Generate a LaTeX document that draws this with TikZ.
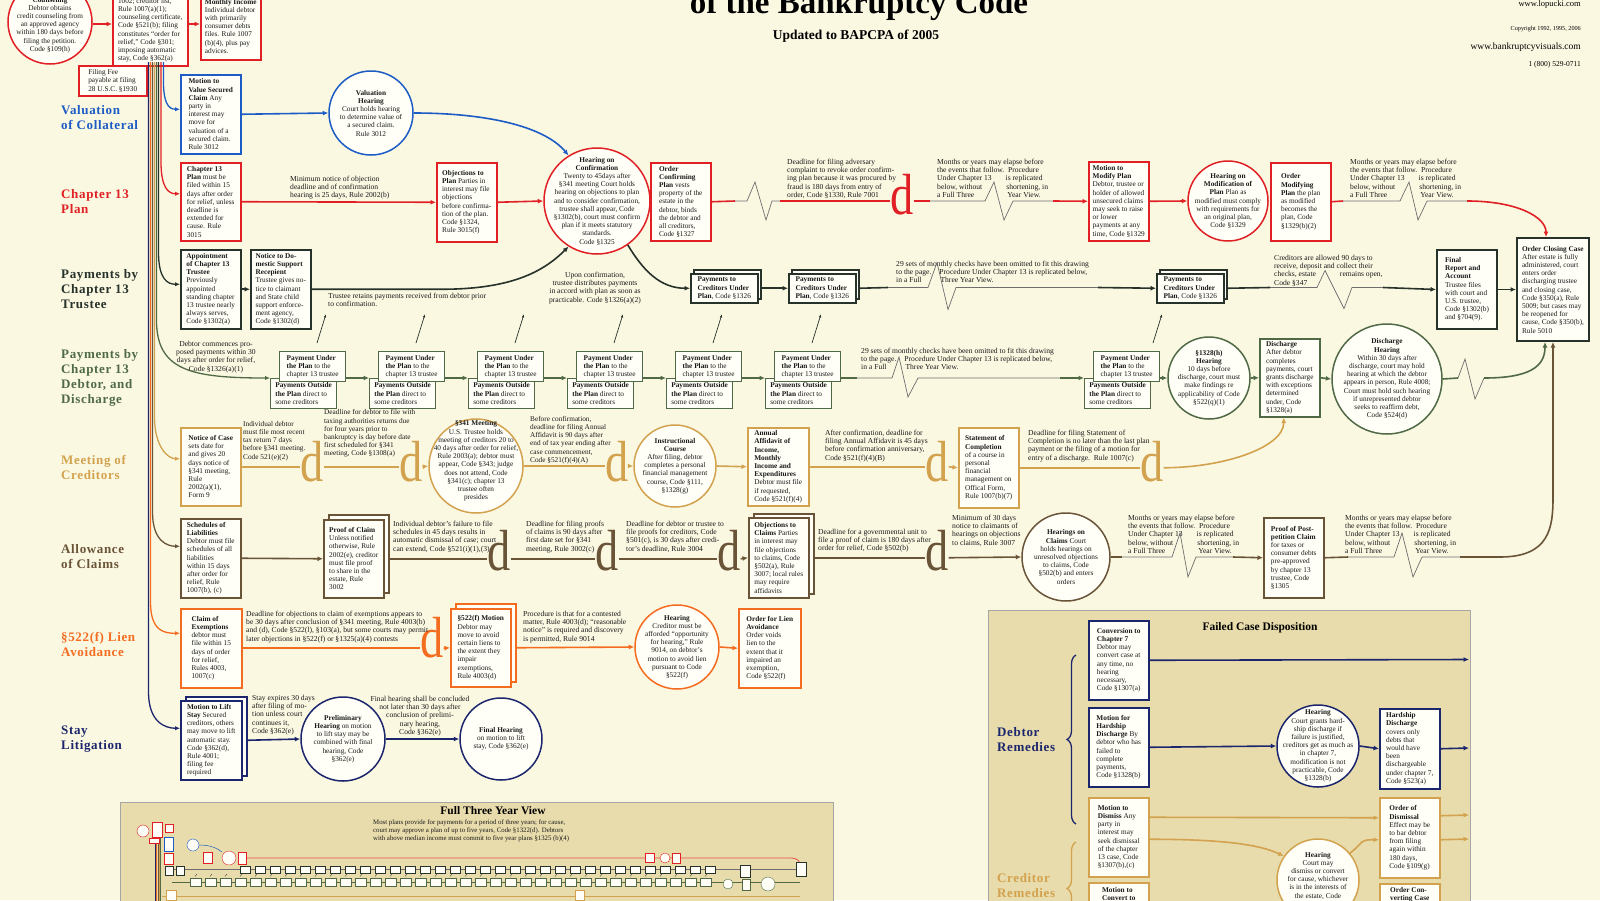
\documentclass[tikz,border=0pt]{standalone}
\usepackage{fontspec}
\setmainfont{Liberation Serif}
\newfontfamily\lanefam[LetterSpace=5]{Liberation Serif}
\usetikzlibrary{arrows.meta,decorations.pathreplacing}

\definecolor{paper}{RGB}{251,248,226}
\definecolor{boxfill}{RGB}{255,255,248}
\definecolor{ink}{RGB}{25,25,25}
\definecolor{valblue}{RGB}{28,92,196}
\definecolor{planred}{RGB}{224,32,36}
\definecolor{trdark}{RGB}{38,50,42}
\definecolor{dbgreen}{RGB}{80,106,70}
\definecolor{mtgold}{RGB}{210,162,78}
\definecolor{clbrown}{RGB}{106,84,56}
\definecolor{lnorange}{RGB}{244,108,32}
\definecolor{stnavy}{RGB}{28,38,108}
\definecolor{zig}{RGB}{110,110,110}
\definecolor{panel}{RGB}{232,220,172}

\newcommand{\boxfont}{\fontsize{7.3}{8.2}\selectfont}
\newcommand{\notefont}{\fontsize{7.6}{8.2}\selectfont}
\newcommand{\lanefont}{\lanefam\bfseries\fontsize{13}{15}\selectfont}
\newcommand{\dmark}{\scalebox{0.8}[1]{\fontsize{58}{58}\selectfont d}}
\newcommand{\monthsnote}{Months or years may elapse before\\the events that follow.\ \ Procedure\\Under Chapter 13\hspace*{14pt}is replicated\\below, without\hspace*{24pt}shortening, in\\a Full Three\hspace*{33pt}Year View.}
\newcommand{\checksnote}{29 sets of monthly checks have been omitted to fit this drawing\\to the page.\hspace*{8pt}Procedure Under Chapter 13 is replicated below,\\in a Full\hspace*{19pt}Three Year View.}

\begin{document}
\begin{tikzpicture}[x=1pt, y=-1pt,
    box/.style={draw, line width=1.5pt, fill=boxfill, anchor=north west,
      minimum width=60pt, minimum height=79pt, align=left, font=\boxfont,
      text=ink, inner xsep=2.5pt, inner ysep=2pt},
    ring/.style={circle, draw, line width=1.5pt, fill=boxfill, inner sep=0pt},
    ctext/.style={align=center, font=\boxfont, text=ink, inner sep=0pt},
    note/.style={anchor=north west, align=left, font=\notefont, text=ink, inner sep=0pt},
    cnote/.style={anchor=north, align=center, font=\notefont, text=ink, inner sep=0pt},
    lane/.style={anchor=north west, align=left, font=\lanefont, inner sep=0pt},
    dd/.style={anchor=base west, inner sep=0pt},
    flow/.style={line width=1.6pt},
    arr/.style={flow, -{Latex[length=5.5pt,width=5pt]}},
    feed/.style={line width=1.3pt, -{Latex[length=5pt,width=4.5pt]}},
    pointer/.style={draw=trdark, line width=0.7pt, -{Latex[length=3.5pt,width=2.5pt]}},
    zz/.style={draw=zig, line width=0.7pt},
    mini/.style={line width=0.4pt, fill=boxfill}
  ]
  \useasboundingbox (0,0) rectangle (1600,900);
  \clip (0,0) rectangle (1600,900);
  \fill[paper] (0,0) rectangle (1600,900);

  \node[font=\fontsize{33}{33}\selectfont\bfseries, anchor=base, inner sep=0pt] (title) at (859,13) {of the Bankruptcy Code};
  \node[font=\fontsize{13.5}{15}\selectfont\bfseries, anchor=base, inner sep=0pt] (subtitle) at (856,39) {Updated to BAPCPA of 2005};
  \node[font=\fontsize{8.5}{9}\selectfont, anchor=east, inner sep=0pt] (web1) at (1581,4) {www.lopucki.com};
  \node[font=\fontsize{6.2}{7}\selectfont, anchor=east, inner sep=0pt] (copy) at (1581,29) {Copyright 1992, 1995, 2006};
  \node[font=\fontsize{9.5}{10}\selectfont, anchor=east, inner sep=0pt] (web2) at (1581,47) {www.bankruptcyvisuals.com};
  \node[font=\fontsize{7.5}{8}\selectfont, anchor=east, inner sep=0pt] (phone) at (1581,65) {1 (800) 529-0711};

  \draw[gray!70, fill=panel] (120,802) rectangle (833,910);
  \draw[gray!70, fill=panel] (988,610) rectangle (1470,910);

  \node[lane, valblue] (lval) at (61,105) {Valuation\\of Collateral};
  \node[lane, planred] (lplan) at (61,189) {Chapter 13\\Plan};
  \node[lane, trdark] (ltrus) at (61,269) {Payments by\\Chapter 13\\Trustee};
  \node[lane, dbgreen] (ldebt) at (61,349) {Payments by\\Chapter 13\\Debtor, and\\Discharge};
  \node[lane, mtgold] (lmeet) at (61,455) {Meeting of\\Creditors};
  \node[lane, clbrown] (lclaim) at (61,544) {Allowance\\of Claims};
  \node[lane, lnorange] (llien) at (61,632) {§522(f) Lien\\Avoidance};
  \node[lane, stnavy] (lstay) at (61,726) {Stay\\Litigation};
  \node[lane, stnavy] (ldrem) at (997,727) {Debtor\\Remedies};
  \node[lane, mtgold] (lcrem) at (997,873) {Creditor\\Remedies};

  % filing
  \node[ring, draw=planred, minimum size=84pt] (couns) at (50,22) {};
  \node[ctext] (counst) at (50,25) {\textbf{Counseling}\\Debtor obtains\\credit counseling from\\an approved agency\\within 180 days before\\filing the petition.\\Code §109(h)};
  \node[box, draw=planred, minimum width=75pt, minimum height=71pt] (petition) at (112,-6) {1002; creditor list,\\Rule 1007(a)(1);\\counseling certificate,\\Code §521(b); filing\\constitutes ``order for\\relief,'' Code §301;\\imposing automatic\\stay, Code §362(a)};
  \node[box, draw=planred, minimum height=67pt] (income) at (200,-8) {\textbf{Monthly Income}\\Individual debtor\\with primarily\\consumer debts\\files. Rule 1007\\(b)(4), plus pay\\advices.};
  \node[box, draw=planred, minimum width=68pt, minimum height=30pt] (fee) at (78,65) {Filing Fee\\payable at filing\\28 U.S.C. §1930};

  % valuation and plan
  \node[box, draw=valblue] (mvsc) at (180,74) {\textbf{Motion to}\\\textbf{Value Secured}\\\textbf{Claim} Any\\party in\\interest may\\move for\\valuation of a\\secured claim.\\Rule 3012};
  \node[ring, draw=valblue, minimum size=84pt] (valh) at (371,113) {};
  \node[ctext] (valht) at (valh) {\textbf{Valuation}\\\textbf{Hearing}\\Court holds hearing\\to determine value of\\a secured claim.\\Rule 3012};
  \node[box, draw=planred, minimum height=78pt] (plan) at (180,162) {\textbf{Chapter 13}\\\textbf{Plan} must be\\filed within 15\\days after order\\for relief, unless\\deadline is\\extended for\\cause. Rule\\3015};
  \node[box, draw=planred] (objplan) at (436,162) {\textbf{Objections to}\\\textbf{Plan} Parties in\\interest may file\\objections\\before confirma-\\tion of the plan.\\Code §1324,\\Rule 3015(f)};
  \node[ring, draw=planred, minimum size=106pt] (hconf) at (597,201) {};
  \node[ctext] (hconft) at (hconf) {\textbf{Hearing on}\\\textbf{Confirmation}\\Twenty to 45days after\\§341 meeting Court holds\\hearing on objections to plan\\and to consider confirmation,\\trustee shall appear, Code\\§1302(b), court must confirm\\plan if it meets statutory\\standards.\\Code §1325};
  \node[box, draw=planred, minimum height=78pt] (ordconf) at (650,162) {\textbf{Order}\\\textbf{Confirming}\\\textbf{Plan} vests\\property of the\\estate in the\\debtor, binds\\the debtor and\\all creditors,\\Code §1327};
  \node[dd, text=planred] (dplan) at (890,214) {\dmark};
  \node[box, draw=planred] (modplan) at (1088,161) {\textbf{Motion to}\\\textbf{Modify Plan}\\Debtor, trustee or\\holder of allowed\\unsecured claims\\may seek to raise\\or lower\\payments at any\\time, Code §1329};
  \node[ring, draw=planred, minimum size=80pt] (hmod) at (1228,201) {};
  \node[ctext] (hmodt) at (hmod) {\textbf{Hearing on}\\\textbf{Modification of}\\\textbf{Plan} Plan as\\modified must comply\\with requirements for\\an original plan,\\Code §1329};
  \node[box, draw=planred, minimum height=78pt] (ordmod) at (1270,162) {\textbf{Order}\\\textbf{Modifying}\\\textbf{Plan} the plan\\as modified\\becomes the\\plan, Code\\§1329(b)(2)};
  \node[box, draw=trdark, line width=2pt, minimum width=72pt, minimum height=103pt] (close) at (1516,237) {\textbf{Order Closing Case}\\After estate is fully\\administered, court\\enters order\\discharging trustee\\and closing case,\\Code §350(a), Rule\\5009; but cases may\\be reopened for\\cause, Code §350(b),\\Rule 5010};

  \node[note] (n1) at (290,176) {Minimum notice of objection\\deadline and of confirmation\\hearing is 25 days, Rule 2002(b)};
  \node[note] (n2) at (787,159) {Deadline for filing adversary\\complaint to revoke order confirm-\\ing plan because it was procured by\\fraud is 180 days from entry of\\order, Code §1330, Rule 7001};
  \node[note] (n3) at (937,159) {\monthsnote};
  \node[note] (n4) at (1350,159) {\monthsnote};

  % trustee
  \node[box, draw=trdark] (appt) at (180,249) {\textbf{Appointment}\\\textbf{of Chapter 13}\\\textbf{Trustee}\\Previously\\appointed\\standing chapter\\13 trustee nearly\\always serves,\\Code §1302(a)};
  \node[box, draw=trdark] (dsr) at (250,249) {\textbf{Notice to Do-}\\\textbf{mestic Support}\\\textbf{Recepient}\\Trustee gives no-\\tice to claimant\\and State child\\support enforce-\\ment agency,\\Code §1302(d)};
  \foreach \x/\n in {690/pay1, 788/pay2, 1156/pay3} {
    \node[box, draw=trdark, minimum width=67pt, minimum height=29pt] (\n b) at (\x+3,269) {};
    \node[box, draw=trdark, minimum width=67pt, minimum height=29pt] (\n) at (\x,273) {\textbf{Payments to}\\\textbf{Creditors Under}\\\textbf{Plan}, Code §1326};
  }
  \node[box, draw=trdark, line width=2pt] (final) at (1436,249) {\textbf{Final}\\\textbf{Report and}\\\textbf{Account}\\Trustee files\\with court and\\U.S. trustee,\\Code §1302(b)\\and §704(9).};
  \node[note] (n5) at (328,293) {Trustee retains payments received from debtor prior\\to confirmation.};
  \node[cnote] (n6) at (595,272) {Upon confirmation,\\trustee distributes payments\\in accord with plan as soon as\\practicable. Code §1326(a)(2)};
  \node[note] (n7) at (896,261) {\checksnote};
  \node[note] (n8) at (1274,255) {Creditors are allowed 90 days to\\receive, deposit and collect their\\checks, estate\hspace*{24pt}remains open,\\Code §347};

  % debtor payments
  \foreach \x/\t [count=\i] in {279/38, 378/38, 477/38, 576/38, 675/38, 774/38, 1093/60} {
    \node[box, draw=dbgreen, line width=1.3pt, minimum width=66pt, minimum height=30pt] (po\i) at (\x-9,378) {\textbf{Payments Outside}\\\textbf{the Plan} direct to\\some creditors};
    \node[box, draw=dbgreen, line width=1.3pt, minimum width=66pt, minimum height=30pt] (pf\i) at (\x,351) {\textbf{Payment Under}\\\textbf{the Plan} to the\\chapter 13 trustee};
    \coordinate (in\i) at (\x-9,378);
    \coordinate (out\i) at (\x+66,378);
    \draw[pointer] ([xshift=\t pt, yshift=8pt]pf\i.north west) -- ++(9,-29);
  }
  \node[ring, draw=dbgreen, minimum size=82pt] (h1328) at (1209,378) {};
  \node[ctext] (h1328t) at (h1328) {\textbf{§1328(h)}\\\textbf{Hearing}\\10 days before\\discharge, court must\\make findings re\\applicability of Code\\§522(q)(1)};
  \node[box, draw=dbgreen, minimum height=78pt] (disch) at (1259,338) {\textbf{Discharge}\\After debtor\\completes\\payments, court\\grants discharge\\with exceptions\\determined\\under, Code\\§1328(a)};
  \node[ring, draw=dbgreen, minimum size=110pt] (dhear) at (1387,379) {};
  \node[ctext] (dheart) at (dhear) {\textbf{Discharge}\\\textbf{Hearing}\\Within 30 days after\\discharge, court may hold\\hearing at which the debtor\\appears in person, Rule 4008;\\Court must hold such hearing\\if unrepresented debtor\\seeks to reaffirm debt,\\Code §524(d)};
  \node[cnote] (n9) at (216,341) {Debtor commences pro-\\posed payments within 30\\days after order for relief,\\Code §1326(a)(1)};
  \node[note] (n10) at (861,348) {\checksnote};

  % meeting of creditors
  \node[box, draw=mtgold, minimum height=78pt] (notice) at (180,427) {\textbf{Notice of Case}\\sets date for\\and gives 20\\days notice of\\§341 meeting,\\Rule\\2002(a)(1),\\Form 9};
  \node[ring, draw=mtgold, minimum size=94pt] (s341) at (476,466) {};
  \node[ctext] (s341t) at (476,461) {\textbf{§341 Meeting}\\U.S. Trustee holds\\meeting of creditors 20 to\\40 days after order for relief,\\Rule 2003(a); debtor must\\appear, Code §343; judge\\does not attend, Code\\§341(c); chapter 13\\trustee often\\presides};
  \node[ring, draw=mtgold, minimum size=82pt] (icourse) at (675,466) {};
  \node[ctext] (icourset) at (icourse) {\textbf{Instructional}\\\textbf{Course}\\After filing, debtor\\completes a personal\\financial management\\course, Code §111,\\§1328(g)};
  \node[box, draw=mtgold, minimum width=61pt, minimum height=78pt] (annual) at (747,427) {\textbf{Annual}\\\textbf{Affidavit of}\\\textbf{Income,}\\\textbf{Monthly}\\\textbf{Income and}\\\textbf{Expenditures}\\Debtor must file\\if requested,\\Code §521(f)(4)};
  \node[box, draw=mtgold, minimum height=80pt] (soc) at (958,427) {\textbf{Statement of}\\\textbf{Completion}\\of a course in\\personal\\financial\\management on\\Offical Form,\\Rule 1007(b)(7)};
  \foreach \x/\n in {300/dm1, 399/dm2, 605/dm3, 925/dm4, 1140/dm5}
    \node[dd, text=mtgold] (\n) at (\x,481) {\dmark};
  \node[note, font=\boxfont] (n11) at (243,421) {Individual debtor\\must file most recent\\tax return 7 days\\before §341 meeting.\\Code 521(e)(2)};
  \node[note, font=\boxfont] (n12) at (324,409.5) {Deadline for debtor to file with\\taxing authorities returns due\\for four years prior to\\bankruptcy is day before date\\first scheduled for §341\\meeting, Code §1308(a)};
  \node[note, font=\boxfont] (n13) at (530,416) {Before confirmation,\\deadline for filing Annual\\Affidavit is 90 days after\\end of tax year ending after\\case commencement,\\Code §521(f)(4)(A)};
  \node[note] (n14) at (825,430) {After confirmation, deadline for\\filing Annual Affidavit is 45 days\\before confirmation anniversary,\\Code §521(f)(4)(B)};
  \node[note] (n15) at (1028,430) {Deadline for filing Statement of\\Completion is no later than the last plan\\payment or the filing of a motion for\\entry of a discharge.\ \ Rule 1007(c)};

  % claims
  \node[box, draw=clbrown] (sched) at (180,518) {\textbf{Schedules of}\\\textbf{Liabilities}\\Debtor must file\\schedules of all\\liabilities\\within 15 days\\after order for\\relief, Rule\\1007(b), (c)};
  \node[box, draw=clbrown, minimum height=78pt] (pocb) at (328,514) {};
  \node[box, draw=clbrown, minimum height=78pt] (poc) at (323,519) {\textbf{Proof of Claim}\\Unless notified\\otherwise, Rule\\2002(e), creditor\\must file proof\\to share in the\\estate, Rule\\3002};
  \node[box, draw=clbrown, minimum height=80pt] (objclb) at (753,513) {};
  \node[box, draw=clbrown, minimum height=80pt] (objcl) at (748,517) {\textbf{Objections to}\\\textbf{Claims} Parties\\in interest may\\file objections\\to claims, Code\\§502(a), Rule\\3007; local rules\\may require\\affidavits};
  \node[ring, draw=clbrown, minimum size=88pt] (hclaims) at (1066,557) {};
  \node[ctext] (hclaimst) at (hclaims) {\textbf{Hearings on}\\\textbf{Claims} Court\\holds hearings on\\unresolved objections\\to claims, Code\\§502(b) and enters\\orders};
  \node[box, draw=clbrown, minimum height=80pt] (ppc) at (1263,517) {\textbf{Proof of Post-}\\\textbf{petition Claim}\\for taxes or\\consumer debts\\pre-approved\\by chapter 13\\trustee, Code\\§1305};
  \foreach \x/\n in {487/dm6, 595/dm7, 717/dm8, 925/dm9}
    \node[dd, text=clbrown] (\n) at (\x,570) {\dmark};
  \node[note] (n16) at (393,521) {Individual debtor's failure to file\\schedules in 45 days results in\\automatic dismissal of case; court\\can extend, Code §521(i)(1),(3)};
  \node[note] (n17) at (526,521) {Deadline for filing proofs\\of claims is 90 days after\\first date set for §341\\meeting, Rule 3002(c)};
  \node[note] (n18) at (626,521) {Deadline for debtor or trustee to\\file proofs for creditors, Code\\§501(c), is 30 days after credi-\\tor's deadline, Rule 3004};
  \node[note] (n19) at (818,529) {Deadline for a governmental unit to\\file a proof of claim is 180 days after\\order for relief, Code §502(b)};
  \node[note] (n20) at (952,515) {Minimum of 30 days\\notice to claimants of\\hearings on objections\\to claims, Rule 3007};
  \node[note] (n21) at (1128,515) {\monthsnote};
  \node[note] (n22) at (1345,515) {\monthsnote};

  % lien avoidance
  \node[box, draw=lnorange, minimum width=61pt] (exempt) at (180,608) {\textbf{Claim of}\\\textbf{Exemptions}\\debtor must\\file within 15\\days of order\\for relief,\\Rules 4003,\\1007(c)};
  \node[dd, text=lnorange] (dm10) at (420,657) {\dmark};
  \node[box, draw=lnorange, minimum height=78pt] (m522b) at (455,603) {};
  \node[box, draw=lnorange, minimum height=78pt] (m522) at (450,608) {\textbf{§522(f) Motion}\\Debtor may\\move to avoid\\certain liens to\\the extent they\\impair\\exemptions,\\Rule 4003(d)};
  \node[ring, draw=lnorange, minimum size=84pt] (hlien) at (677,647) {};
  \node[ctext] (hlient) at (hlien) {\textbf{Hearing}\\Creditor must be\\afforded ``opportunity\\for hearing,'' Rule\\9014, on debtor's\\motion to avoid lien\\pursuant to Code\\§522(f)};
  \node[box, draw=lnorange, minimum width=62pt] (olien) at (738,608) {\textbf{Order for Lien}\\\textbf{Avoidance}\\Order voids\\lien to the\\extent that it\\impaired an\\exemption,\\Code §522(f)};
  \node[note] (n23) at (246,611) {Deadline for objections to claim of exemptions appears to\\be 30 days after conclusion of §341 meeting, Rule 4003(b)\\and (d), Code §522(l), §103(a), but some courts may permit\\later objections in §522(f) or §1325(a)(4) contests};
  \node[note] (n24) at (523,611) {Procedure is that for a contested\\matter, Rule 4003(d); ``reasonable\\notice'' is required and discovery\\is permitted, Rule 9014};

  % stay litigation
  \node[box, draw=stnavy, minimum width=61pt] (liftb) at (185,696) {};
  \node[box, draw=stnavy, minimum width=61pt] (lift) at (180,700) {\textbf{Motion to Lift}\\\textbf{Stay} Secured\\creditors, others\\may move to lift\\automatic stay.\\Code §362(d),\\Rule 4001;\\filing fee\\required};
  \node[ring, draw=stnavy, minimum size=84pt] (prelim) at (343,739) {};
  \node[ctext] (prelimt) at (prelim) {\textbf{Preliminary}\\\textbf{Hearing} on motion\\to lift stay may be\\combined with final\\hearing, Code\\§362(e)};
  \node[ring, draw=stnavy, minimum size=82pt] (fhear) at (501,739) {};
  \node[ctext] (fheart) at (fhear) {\textbf{Final Hearing}\\on motion to lift\\stay, Code §362(e)};
  \node[note] (n25) at (252,695) {Stay expires 30 days\\after filing of mo-\\tion unless court\\continues it,\\Code §362(e)};
  \node[cnote] (n26) at (420,696) {Final hearing shall be concluded\\not later than 30 days after\\conclusion of prelimi-\\nary hearing,\\Code §362(e)};

  % failed case disposition
  \node[font=\fontsize{11.5}{13}\selectfont\bfseries, inner sep=0pt] (fctitle) at (1260,628) {Failed Case Disposition};
  \node[box, draw=stnavy] (conv7) at (1088,620) {\textbf{Conversion to}\\\textbf{Chapter 7}\\Debtor may\\convert case at\\any time, no\\hearing\\necessary,\\Code §1307(a)};
  \node[box, draw=stnavy] (hardmot) at (1088,707) {\textbf{Motion for}\\\textbf{Hardship}\\\textbf{Discharge} By\\debtor who has\\failed to\\complete\\payments,\\Code §1328(b)};
  \node[ring, draw=stnavy, minimum size=82pt] (hhard) at (1318,746) {};
  \node[ctext] (hhardt) at (hhard) {\textbf{Hearing}\\Court grants hard-\\ship discharge if\\failure is justified,\\creditors get as much as\\in chapter 7,\\modification is not\\practicable, Code\\§1328(b)};
  \node[box, draw=stnavy, minimum height=80pt] (hardis) at (1379,708) {\textbf{Hardship}\\\textbf{Discharge}\\covers only\\debts that\\would have\\been\\dischargeable\\under chapter 7,\\Code §523(a)};
  \node[box, draw=mtgold] (dismot) at (1088,797) {\textbf{Motion to}\\\textbf{Dismiss} Any\\party in\\interest may\\seek dismissal\\of the chapter\\13 case, Code\\§1307(b),(c)};
  \node[ring, draw=mtgold, minimum size=82pt] (hdis) at (1318,880) {};
  \node[ctext] (hdist) at (hdis) {\textbf{Hearing}\\Court may\\dismiss or convert\\for cause, whichever\\is in the interests of\\the estate, Code\\§1307(c)};
  \node[box, draw=mtgold, minimum height=80pt] (orddis) at (1379,797) {\textbf{Order of}\\\textbf{Dismissal}\\Effect may be\\to bar debtor\\from filing\\again within\\180 days,\\Code §109(g)};
  \node[box, draw=mtgold, minimum height=22pt] (convmot) at (1088,882) {\textbf{Motion to}\\\textbf{Convert to}};
  \node[box, draw=mtgold, minimum height=22pt] (ordconv) at (1379,883) {\textbf{Order Con-}\\\textbf{verting Case}};
  \draw[decorate, decoration={brace, amplitude=9pt}, stnavy, line width=1.3pt] (1076,824) -- (1076,655);
  \draw[decorate, decoration={brace, amplitude=9pt}, mtgold, line width=1.3pt] (1076,935) -- (1076,842);

  % full three year view
  \node[font=\fontsize{11.5}{13}\selectfont\bfseries, inner sep=0pt] (fttitle) at (493,811) {Full Three Year View};
  \node[note, font=\fontsize{6.8}{8.2}\selectfont] (ftnote) at (373,819) {Most plans provide for payments for a period of three years; for cause,\\court may approve a plan of up to five years, Code §1322(d). Debtors\\with above median income must commit to five year plans §1325 (b)(4)};
  \foreach \c/\o in {stnavy/0, lnorange/1.4, clbrown/2.8, mtgold/4.2, dbgreen/5.6}
    \draw[\c, line width=0.6pt] (155+\o,838) -- (155+\o,905);
  \draw[planred!80, line width=0.8pt] (246,858) -- (790,858) .. controls (798,858) and (800,861) .. (800,866);
  \draw[zig, line width=0.5pt] (172,869.5) -- (800,869.5);
  \draw[dbgreen, line width=0.5pt] (172,882) -- (800,882);
  \draw[mtgold, line width=0.8pt] (162,896) -- (800,896);
  \foreach \k in {0,...,31}
    \draw[mini, draw=trdark] (240+15*\k,866) rectangle ++(10,7);
  \foreach \k in {0,...,34} {
    \draw[mini, draw=dbgreen] (190+15*\k,878) rectangle ++(11,8);
    \draw[trdark, line width=0.3pt] (195+15*\k,876.5) -- ++(2,-2.5);
  }
  \draw[mini, draw=planred] (143,831) circle (6);
  \draw[mini, draw=planred] (152,822) rectangle (162,837);
  \draw[mini, draw=planred] (149,838) rectangle (159,843);
  \draw[mini, draw=planred] (165,824) rectangle (173,832);
  \draw[mini, draw=valblue] (164,837) rectangle (173,851);
  \draw[valblue, line width=0.5pt] (199,845) .. controls (212,845) and (218,849) .. (222,852);
  \draw[mini, draw=valblue] (193,845) circle (6);
  \draw[mini, draw=planred] (164,853) rectangle (173,864);
  \draw[mini, draw=planred] (203,852) rectangle (212,863);
  \draw[mini, draw=planred] (229,858) circle (7);
  \draw[mini, draw=planred] (238,852) rectangle (246,864);
  \draw[mini, draw=trdark] (165,866) rectangle (173,875);
  \draw[mini, draw=trdark] (176,866) rectangle (184,875);
  \draw[mini, draw=planred] (645,853) rectangle (654,862);
  \draw[mini, draw=planred] (665,858) circle (5);
  \draw[mini, draw=planred] (672,853) rectangle (680,863);
  \draw[mini, draw=trdark] (740,865) rectangle (750,877);
  \draw[mini, draw=dbgreen] (728,884) circle (5);
  \draw[mini, draw=dbgreen] (742,879) rectangle (750,890);
  \draw[mini, draw=dbgreen] (768,884) circle (7);
  \draw[mini, draw=trdark] (796,862) rectangle (806,876);
  \draw[mini, draw=mtgold] (166,890) rectangle (176,900);
  \draw[mini, draw=mtgold] (575,890) rectangle (584,900);

  % feed lines out of the petition
  \coordinate (bnavy) at (148.5,62);
  \coordinate (borange) at (150.5,62);
  \coordinate (bbrown) at (152.5,62);
  \coordinate (bgold) at (154.5,62);
  \coordinate (bgreen) at (156.5,62);
  \coordinate (bdark) at (158.5,62);
  \coordinate (bred) at (161,62);
  \coordinate (bblue) at (163.5,62);
  \draw[feed, valblue] (bblue) -- ++(0,20) .. controls +(0,20) and +(-12,0) .. ([yshift=5pt]mvsc.west);
  \draw[feed, planred] (bred) -- ++(0,100) .. controls +(0,25) and +(-12,0) .. ([yshift=8pt]plan.west);
  \draw[feed, trdark] (bdark) -- ++(0,190) .. controls +(0,28) and +(-12,0) .. ([yshift=5pt]appt.west);
  \draw[feed, dbgreen] (bgreen) -- ++(0,258) .. controls +(0,50) and +(-80,0) .. (in1);
  \draw[feed, mtgold] (bgold) -- ++(0,355) .. controls +(0,30) and +(-12,0) .. ([yshift=8pt]notice.west);
  \draw[feed, clbrown] (bbrown) -- ++(0,450) .. controls +(0,30) and +(-12,0) .. ([yshift=12pt]sched.west);
  \draw[feed, lnorange] (borange) -- ++(0,540) .. controls +(0,30) and +(-15,0) .. ([yshift=15pt]exempt.west);
  \draw[feed, stnavy] (bnavy) -- ++(0,630) .. controls +(0,30) and +(-15,0) .. ([yshift=12pt]lift.west);
  \draw[arr, planred] (couns.east |- 0,24) -- (petition.west |- 0,24);
  \draw[arr, planred] (petition.east |- 0,24) -- (income.west |- 0,24);

  % valuation and plan
  \draw[arr, valblue] (mvsc.east) -- (valh.west);
  \draw[arr, valblue] (valh.east) .. controls +(70,0) and +(-25,-30) .. (hconf.122);
  \draw[arr, planred] (plan.east) -- (objplan.west);
  \draw[arr, planred] (objplan.east) -- (hconf.west);
  \coordinate (zp1) at (735,201);
  \coordinate (zp2) at (780,201);
  \coordinate (zp3) at (930,201);
  \coordinate (zp4) at (1053,201);
  \coordinate (zp5) at (1343,201);
  \coordinate (zp6) at (1467,201);
  \draw[flow, planred] (ordconf.east) -- (zp1);
  \draw[zz] (zp1) -- ++(12,0) -- ++(8,-19) -- ++(11,38) -- ++(6,-19) -- (zp2);
  \draw[flow, planred] (zp2) -- (dplan.west |- zp2);
  \draw[flow, planred] (dplan.east |- zp2) -- (zp3);
  \draw[zz] (zp3) -- ++(55,0) -- ++(9,-19) -- ++(10,38) -- ++(9,-19) -- (zp4);
  \draw[arr, planred] (zp4) -- (modplan.west);
  \draw[arr, planred] (modplan.east) -- (hmod.west);
  \draw[flow, planred] (ordmod.east) -- (zp5);
  \draw[zz] (zp5) -- ++(57,0) -- ++(9,-19) -- ++(9,38) -- ++(9,-19) -- (zp6);
  \draw[arr, planred] (zp6) .. controls +(50,0) and +(0,-20) .. ([xshift=-7pt]close.north);

  % trustee
  \draw[arr, trdark] (appt.east) -- (dsr.west);
  \draw[arr, trdark] (dsr.east) -- ++(130,0) .. controls +(70,0) and +(-25,25) .. (hconf.238);
  \draw[arr, trdark] (hconf.-55) .. controls +(15,25) and +(-30,0) .. (pay1.west);
  \draw[arr, trdark] (pay1b.east |- pay1.east) -- (pay2.west);
  \coordinate (zt1) at (888,287.5);
  \coordinate (zt2) at (1098,287.5);
  \coordinate (zt3) at (1270,287.5);
  \coordinate (zt4) at (1383,287.5);
  \draw[flow, trdark] (pay2b.east |- pay2.east) -- (zt1);
  \draw[zz] (zt1) -- ++(40,0) -- ++(9,-25) -- ++(11,47) -- ++(8,-22) -- (zt2);
  \draw[arr, trdark] (zt2) -- (pay3.west);
  \draw[flow, trdark] (pay3b.east |- pay3.east) -- (zt3);
  \draw[zz] (zt3) -- ++(47,0) -- ++(8,-17) -- ++(19,38) -- ++(8,-21) -- (zt4);
  \draw[arr, trdark] (zt4) -- (final.west);
  \draw[arr, trdark] (final.east) -- (close.west);

  % debtor payments
  \foreach \i [evaluate=\i as \j using int(\i+1)] in {1,...,5}
    \draw[arr, dbgreen] (out\i) -- (in\j);
  \coordinate (zg1) at (857,378);
  \coordinate (zg2) at (1060,378);
  \coordinate (zg3) at (1458,378);
  \coordinate (zg4) at (1484,378);
  \draw[flow, dbgreen] (out6) -- (zg1);
  \draw[zz] (zg1) -- ++(35,0) -- ++(7,-21) -- ++(9,40) -- ++(10,-19) -- (zg2);
  \draw[arr, dbgreen] (zg2) -- (in7);
  \draw[arr, dbgreen] (out7) -- (h1328.west);
  \draw[arr, dbgreen] (h1328.east) -- (disch.west);
  \draw[arr, dbgreen] (disch.east) -- (dhear.west);
  \draw[flow, dbgreen] (dhear.east) -- (zg3);
  \draw[zz] (zg3) -- ++(7,-19) -- ++(10,40) -- (zg4);
  \draw[arr, dbgreen] (zg4) .. controls +(45,0) and +(0,25) .. ([xshift=-8pt]close.south);

  % meeting of creditors
  \draw[flow, mtgold] (notice.east) -- (dm1.west |- notice.east);
  \draw[flow, mtgold] (dm1.east |- notice.east) -- (dm2.west |- notice.east);
  \draw[arr, mtgold] (dm2.east |- notice.east) -- (s341.west);
  \draw[flow, mtgold] (s341.east) -- (dm3.west |- s341.east);
  \draw[arr, mtgold] (dm3.east |- s341.east) -- (icourse.west);
  \draw[arr, mtgold] (icourse.east) -- (annual.west);
  \draw[flow, mtgold] (annual.east) -- (dm4.west |- annual.east);
  \draw[arr, mtgold] (dm4.east |- annual.east) -- (soc.west);
  \draw[flow, mtgold] (soc.east) -- (dm5.west |- soc.east);
  \draw[arr, mtgold] (dm5.east |- soc.east) .. controls +(60,0) and +(0,30) .. ([xshift=-6pt]disch.south);

  % claims
  \draw[arr, clbrown] (sched.east) -- (poc.west);
  \draw[flow, clbrown] (pocb.east |- poc.east) -- (dm6.west |- poc.east);
  \draw[flow, clbrown] (dm6.east |- poc.east) -- (dm7.west |- poc.east);
  \draw[flow, clbrown] (dm7.east |- poc.east) -- (dm8.west |- poc.east);
  \draw[arr, clbrown] (dm8.east |- poc.east) -- (objcl.west);
  \draw[flow, clbrown] (objclb.east |- objcl.east) -- (dm9.west |- objcl.east);
  \draw[arr, clbrown] (dm9.east |- objcl.east) -- (hclaims.west);
  \coordinate (zc1) at (1122,557);
  \coordinate (zc2) at (1233,557);
  \coordinate (zc3) at (1348,557);
  \coordinate (zc4) at (1460,557);
  \draw[flow, clbrown] (hclaims.east) -- (zc1);
  \draw[zz] (zc1) -- ++(50,0) -- ++(8,-24) -- ++(8,44) -- ++(8,-20) -- (zc2);
  \draw[arr, clbrown] (zc2) -- (ppc.west);
  \draw[flow, clbrown] (ppc.east) -- (zc3);
  \draw[zz] (zc3) -- ++(46,0) -- ++(8,-24) -- ++(11,44) -- ++(9,-20) -- (zc4);
  \draw[arr, clbrown] (zc4) -- ++(40,0) .. controls +(50,0) and +(0,30) .. (close.south |- 0,497) -- (close.south);

  % lien avoidance and stay
  \draw[flow, lnorange] (exempt.east) -- (dm10.west |- exempt.east);
  \draw[arr, lnorange] (dm10.east |- exempt.east) -- (m522.west);
  \draw[arr, lnorange] (m522b.east |- m522.east) -- (hlien.west);
  \draw[arr, lnorange] (hlien.east) -- (olien.west);
  \draw[arr, stnavy] (liftb.east |- lift.east) -- (prelim.west);
  \draw[arr, stnavy] (prelim.east) -- (fhear.west);

  % failed case
  \coordinate (fx1) at (1469,659.5);
  \coordinate (fx2) at (1469,748);
  \coordinate (fx3) at (1469,815);
  \coordinate (fx4) at (1469,839);
  \draw[arr, stnavy] (conv7.east) -- (fx1);
  \draw[arr, stnavy] (hardmot.east) -- (hhard.west);
  \draw[arr, stnavy] (hhard.east) -- (hardis.west);
  \draw[arr, stnavy] (hardis.east) -- (fx2);
  \draw[arr, mtgold] ([yshift=20pt]dismot.east) -- ([yshift=20pt]orddis.west);
  \draw[arr, mtgold] ([yshift=-2pt]dismot.east) .. controls +(70,0) and +(-25,-12) .. (hdis.145);
  \draw[arr, mtgold] (hdis.40) .. controls +(15,-12) and +(-20,0) .. ([yshift=-2pt]orddis.west);
  \draw[arr, mtgold] ([yshift=22pt]orddis.east) -- (fx3);
  \draw[arr, mtgold] ([yshift=-2pt]orddis.east) -- (fx4);
\end{tikzpicture}
\end{document}
